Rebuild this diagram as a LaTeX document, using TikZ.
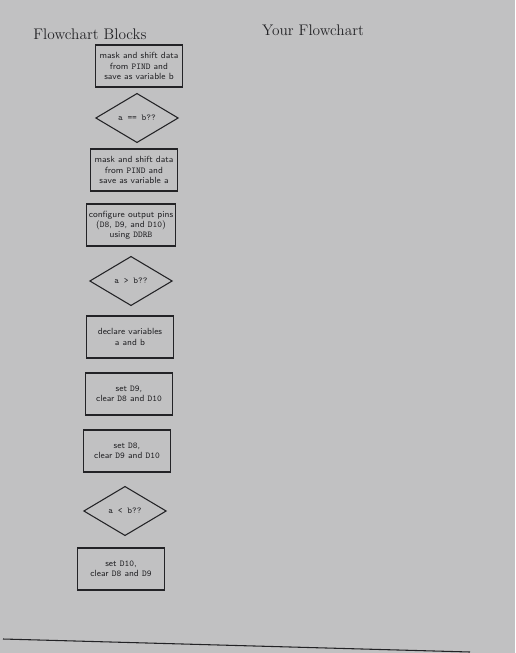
\documentclass[tikz,border=0pt]{standalone}
\usetikzlibrary{shapes.geometric}
\definecolor{paper}{RGB}{193,193,194}
\definecolor{ink}{RGB}{35,35,38}

\begin{document}
\begin{tikzpicture}[x=0.75pt,y=-0.75pt,
  block/.style={draw=ink,line width=0.8pt,text=ink,align=center,
    minimum width=65pt,minimum height=31.5pt,inner sep=1pt,
    font=\fontsize{6.7}{7.6}\selectfont\sffamily},
  test/.style={draw=ink,line width=0.8pt,text=ink,diamond,aspect=1.7,
    minimum width=62pt,minimum height=37pt,inner sep=0pt,
    font=\fontsize{6.7}{7.6}\selectfont\ttfamily},
  heading/.style={text=ink,font=\fontsize{11.5}{14}\selectfont}]
\fill[paper] (0,0) rectangle (515,653);
\useasboundingbox (0,0) rectangle (515,653);
\node[heading] (blocks) at (90,34) {Flowchart Blocks};
\node[heading] (yours) at (313,30) {Your Flowchart};
\node[block] (maskb) at (139,66) {mask and shift data\\from \texttt{PIND} and\\save as variable b};
\node[test] (eq) at (137,118) {a == b??};
\node[block] (maska) at (134,170) {mask and shift data\\from \texttt{PIND} and\\save as variable a};
\node[block,minimum width=67pt] (config) at (131,225) {configure output pins\\(\texttt{D8}, \texttt{D9}, and \texttt{D10})\\using \texttt{DDRB}};
\node[test] (gt) at (131,281) {a > b??};
\node[block] (declare) at (130,337) {declare variables\\a and b};
\node[block] (setnine) at (129,394) {set \texttt{D9},\\clear \texttt{D8} and \texttt{D10}};
\node[block] (seteight) at (127,451) {set \texttt{D8},\\clear \texttt{D9} and \texttt{D10}};
\node[test] (lt) at (125,511) {a < b??};
\node[block] (setten) at (121,569) {set \texttt{D10},\\clear \texttt{D8} and \texttt{D9}};
\coordinate (rulel) at (3,639);
\coordinate (ruler) at (470,652);
\draw[ink,line width=0.8pt] (rulel) -- (ruler);
\end{tikzpicture}
\end{document}
